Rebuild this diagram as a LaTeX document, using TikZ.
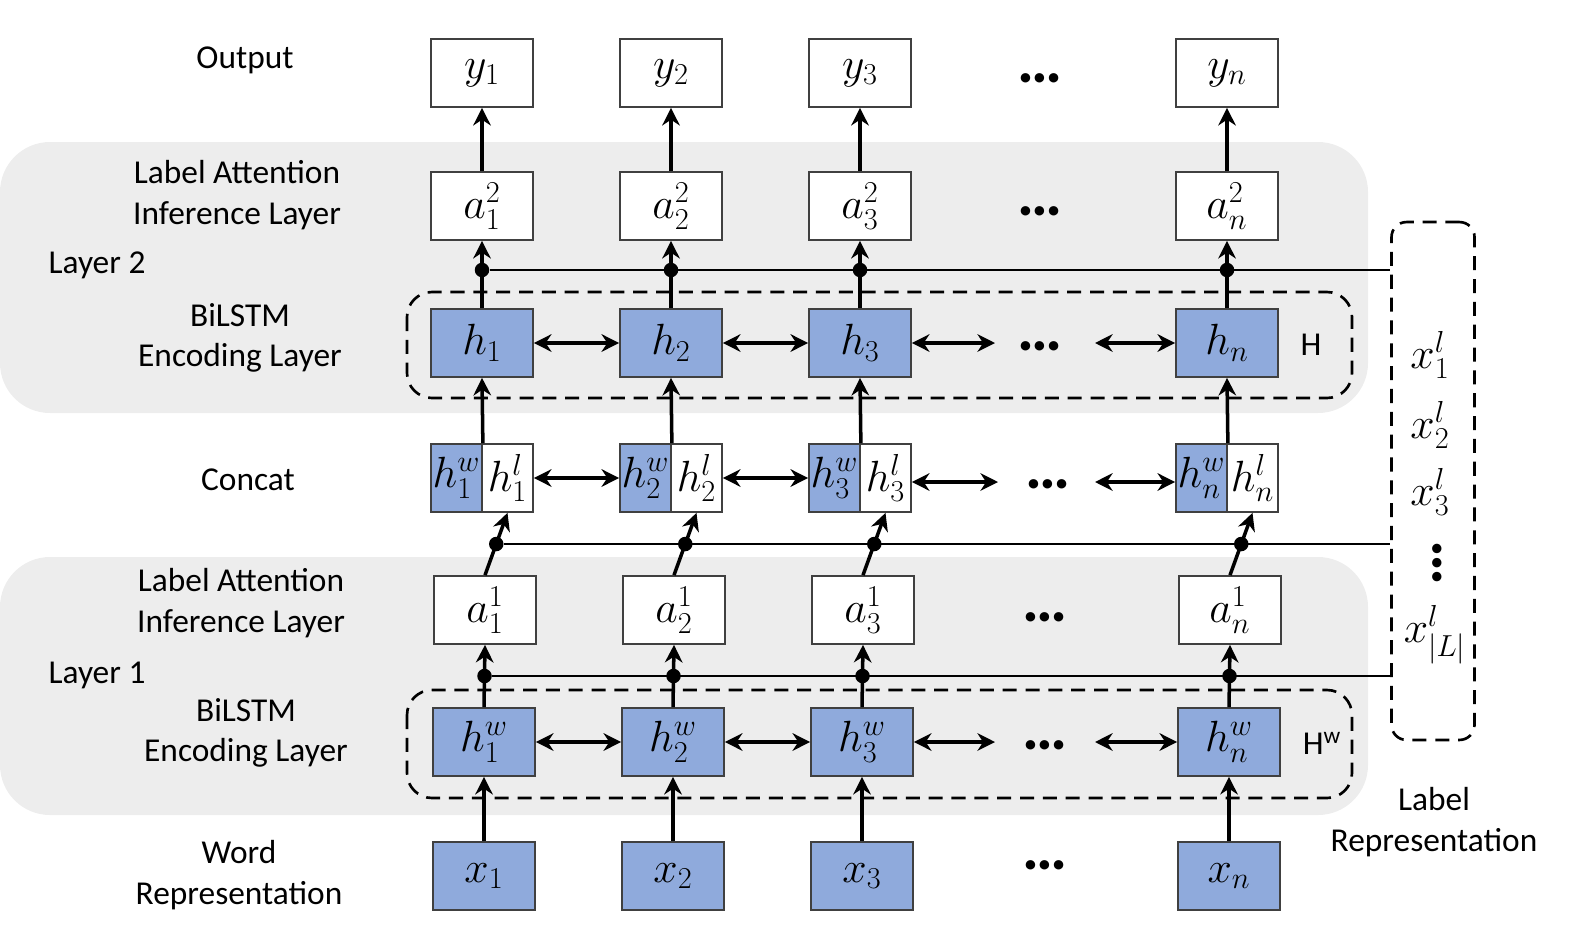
\documentclass[tikz,border=0pt]{standalone}
\usepackage{fontspec}
\setmainfont{Carlito}
\usepackage{amsmath}
\usetikzlibrary{arrows.meta,calc}
\pgfdeclarelayer{bg}
\pgfsetlayers{bg,main}
\definecolor{layergray}{RGB}{237,237,237}
\definecolor{cellblue}{RGB}{143,170,220}
\tikzset{
    cell/.style={rectangle, draw=black!75, line width=1pt, minimum width=2.04cm, minimum height=1.36cm, inner sep=0mm, font=\fontsize{24}{28}\selectfont},
    bluecell/.style={cell, fill=cellblue},
    whitecell/.style={cell, fill=white},
    caption/.style={align=center, inner sep=0mm, font=\fontsize{19}{23}\selectfont},
    flow/.style={line width=2pt, -{Stealth[length=10pt,width=10pt]}},
    both/.style={line width=2pt, {Stealth[length=10pt,width=10pt]}-{Stealth[length=10pt,width=10pt]}},
    junction/.style={circle, fill=black, inner sep=0mm, minimum size=2.9mm},
    feed/.style={line width=1.5pt},
    group/.style={line width=1.5pt, dash pattern=on 8pt off 5pt, rounded corners=0.5cm},
    sym/.style={inner sep=0mm, font=\fontsize{24}{28}\selectfont},
    gap/.style={inner sep=0mm, anchor=base, font=\fontsize{36}{36}\selectfont\bfseries}
}

\begin{document}
\begin{tikzpicture}[x=0.02cm, y=-0.02cm]
        \useasboundingbox (0,0) rectangle (1578,940);
        \begin{pgfonlayer}{bg}
                \fill[layergray, rounded corners=1cm] (0,142) rectangle (1368,413);
                \fill[layergray, rounded corners=1cm] (0,557) rectangle (1368,815);
        \end{pgfonlayer}
        \draw[group] (407,292) rectangle (1352,398);
        \draw[group] (407,690) rectangle (1352,798);

        % row captions
        \node (out) [caption] at (245,60) {Output};
        \node (inf2) [caption] at (237,195) {Label Attention\\Inference Layer};
        \node (lay2) [caption] at (97,265) {Layer 2};
        \node (enc2) [caption] at (240,338) {BiLSTM\\Encoding Layer};
        \node (cat) [caption] at (248,480) {Concat};
        \node (inf1) [caption] at (241,603) {Label Attention\\Inference Layer};
        \node (lay1) [caption] at (97,675) {Layer 1};
        \node (enc1) [caption] at (246,733) {BiLSTM\\Encoding Layer};
        \node (word) [caption] at (239,875) {Word\\Representation};
        \node (labrep) [caption] at (1434,822) {Label\\Representation};
        \node (hname) [caption] at (1311,345) {H};
        \node (hwname) [caption] at (1322,743) {H\textsuperscript{w}};

        % label representation
        \node (lab) [draw, line width=1.5pt, dash pattern=on 8pt off 5pt, rounded corners=0.3cm, minimum width=1.66cm, minimum height=10.36cm] at (1433,481) {};
        \node (xl1) [sym] at (1430,355) {$x^l_1$};
        \node (xl2) [sym] at (1430,425) {$x^l_2$};
        \node (xl3) [sym] at (1430,492) {$x^l_3$};
        \node (xlv) [gap, rotate=90] at (1441,563) {…};
        \node (xlL) [sym] at (1435,635) {$x^l_{|L|}$};

        % columns
        \foreach \i/\x in {1/482, 2/671, 3/860, n/1227} {
                \node (y\i) [whitecell] at (\x,73) {$y_{\i}$};
                \node (at\i) [whitecell] at (\x,206) {$a^2_{\i}$};
                \node (h\i) [bluecell] at (\x,343) {$h_{\i}$};
                \node (cw\i) [bluecell, minimum width=1.02cm] at (\x-25.5,478) {$h^w_{\i}$};
                \node (cl\i) [whitecell, minimum width=1.02cm] at (\x+25.5,478) {$h^l_{\i}$};
                \node (ao\i) [whitecell] at (\x+3,610) {$a^1_{\i}$};
                \node (hw\i) [bluecell] at (\x+2,742) {$h^w_{\i}$};
                \node (x\i) [bluecell] at (\x+2,876) {$x_{\i}$};
                \node (jt\i) [junction] at (\x,270) {};
                \node (jc\i) [junction] at ($(ao\i.north)!0.5!(cl\i.south)$) {};
                \node (jb\i) [junction] at ($(hw\i.north)!0.5!(ao\i.south)$) {};
                \draw[flow] (x\i) -- (hw\i);
                \draw[flow] (hw\i.north) -- (ao\i.south);
                \draw[flow] (ao\i.north) -- (cl\i.south);
                \draw[flow] (cw\i.north east) -- (h\i.south);
                \draw[flow] (h\i.north) -- (at\i.south);
                \draw[flow] (at\i) -- (y\i);
        }

        % label feeds
        \draw[feed] (jt1) -- (jt1 -| lab.west);
        \draw[feed] (jc1) -- (jc1 -| lab.west);
        \draw[feed] (jb1) -- (jb1 -| lab.west);

        % gaps
        \node (dy) [gap] at (1040,82) {…};
        \node (dat) [gap] at (1040,215) {…};
        \node (dh) [gap] at (1040,350) {…};
        \node (dc) [gap] at (1048,488) {…};
        \node (dao) [gap] at (1045,621) {…};
        \node (dhw) [gap] at (1045,749) {…};
        \node (dx) [gap] at (1045,869) {…};
        \coordinate (hl) at (995,343);
        \coordinate (hr) at (1095,343);
        \coordinate (cl) at (998,482);
        \coordinate (cr) at (1095,482);
        \coordinate (wl) at (995,742);
        \coordinate (wr) at (1095,742);

        % bidirectional links
        \draw[both] (h1) -- (h2);
        \draw[both] (h2) -- (h3);
        \draw[both] (h3) -- (hl);
        \draw[both] (hr) -- (hn);
        \draw[both] (cl1) -- (cw2);
        \draw[both] (cl2) -- (cw3);
        \draw[both] (cl3.east |- cl) -- (cl);
        \draw[both] (cr) -- (cwn.west |- cr);
        \draw[both] (hw1) -- (hw2);
        \draw[both] (hw2) -- (hw3);
        \draw[both] (hw3) -- (wl);
        \draw[both] (wr) -- (hwn);
\end{tikzpicture}
\end{document}
